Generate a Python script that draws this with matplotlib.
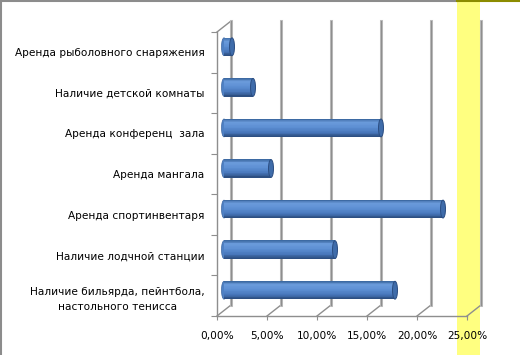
import numpy as np
import matplotlib
matplotlib.use('Agg')
from matplotlib import pyplot as plt
from matplotlib.patches import Ellipse, Rectangle
from matplotlib.lines import Line2D
from matplotlib.transforms import offset_copy, IdentityTransform
from matplotlib.colors import LinearSegmentedColormap

categories = ['Аренда рыболовного снаряжения',
              'Наличие детской комнаты',
              'Аренда конференц  зала',
              'Аренда мангала',
              'Аренда спортинвентаря',
              'Наличие лодчной станции',
              'Наличие бильярда, пейнтбола,\nнастольного тенисса']
values = [0.8, 2.9, 15.7, 4.7, 21.9, 11.1, 17.1]
xticks = [0, 5, 10, 15, 20, 25]
xlabels = ['0,00%', '5,00%', '10,00%', '15,00%', '20,00%', '25,00%']

W, H = 520, 355
DX, DY = 14, 11          # depth of the 3d box in pixels
GRID = '#8e8e8e'
FS = 7.6

fig = plt.figure(figsize=(W / 100, H / 100), dpi=100)
fig.patch.set_facecolor('white')

# yellow band + chart border
fig.patches.append(Rectangle((457 / W, 0), 23 / W, 1, transform=fig.transFigure,
                             facecolor='#FFFF80', edgecolor='none', zorder=-5))
fig.add_artist(Line2D([0, 457 / W], [1 - 0.5 / H] * 2, color='#8c8c8c', lw=1.5))
fig.add_artist(Line2D([457 / W, 1], [1 - 0.5 / H] * 2, color='#8c8c00', lw=1.5))
fig.add_artist(Line2D([0.5 / W] * 2, [0, 1], color='#8c8c8c', lw=1.5))

# front plane of the plot area
ax = fig.add_axes([217 / W, (H - 316) / H, 250 / W, 284 / H])
ax.set_zorder(2)
ax.set_facecolor('none')
ax.set_xlim(0, 25)
ax.set_ylim(len(categories), 0)
for s in ax.spines.values():
    s.set_visible(False)

back = offset_copy(ax.transData, fig=fig, x=DX, y=DY, units='dots')
mid = offset_copy(ax.transData, fig=fig, x=DX / 2, y=DY / 2, units='dots')
n = len(categories)

def depth_line(x, y):
    px, py = ax.transData.transform((x, y))
    fig.add_artist(Line2D([px, px + DX], [py, py + DY], transform=IdentityTransform(),
                          color=GRID, lw=1.0, zorder=1))

# back wall gridlines and floor
for v in xticks:
    ax.plot([v, v], [0, n], color='#c2c2c2', lw=2.2, transform=back, clip_on=False, zorder=1)
    ax.plot([v, v], [0, n], color=GRID, lw=1.0, transform=back, clip_on=False, zorder=1)
    depth_line(v, n)
depth_line(0, 0)
ax.plot([0, 25], [n, n], color=GRID, lw=1.0, clip_on=False, zorder=1)
ax.plot([0, 0], [0, n], color=GRID, lw=1.0, clip_on=False, zorder=1)

# cylinders
cmap = LinearSegmentedColormap.from_list('cyl', [
    (0.0, '#3d6aa3'), (0.18, '#6b9bdb'), (0.45, '#5e90d4'),
    (0.78, '#4877bb'), (1.0, '#2d4f82')])
centers = np.arange(n) + 0.5
h = 0.44
steps = 24
dh = h / steps
ax.barh(centers, values, height=h, left=0, color='#4f81c4', transform=mid,
        linewidth=0, zorder=3)
for k in range(steps):
    ax.barh(centers - h / 2 + (k + 0.5) * dh, values, height=dh * 1.6, left=0,
            color=cmap(k / (steps - 1)), transform=mid, linewidth=0, zorder=3)
for c, v in zip(centers, values):
    ax.add_patch(Ellipse((0, c), 0.5, h, transform=mid, facecolor='#4f81c4',
                         edgecolor='#3a64a0', lw=0.5, zorder=2))
    ax.add_patch(Ellipse((v, c), 0.5, h, transform=mid, facecolor='#3f6caa',
                         edgecolor='#2c4e82', lw=0.7, zorder=4))

# axes ticks and labels
ax.set_xticks(xticks)
ax.set_xticklabels(xlabels)
ax.tick_params(axis='x', length=3, color=GRID, pad=8, labelsize=FS, labelcolor='black')
ax.set_yticks(np.arange(n + 1))
ax.set_yticklabels([])
ax.set_yticks(centers, minor=True)
ax.set_yticklabels(categories, minor=True, multialignment='center', linespacing=1.6)
ax.tick_params(axis='y', which='major', length=4, color=GRID)
ax.tick_params(axis='y', which='minor', length=0, pad=9, labelsize=FS, labelcolor='black')

fig.savefig('out.png', dpi=100)
